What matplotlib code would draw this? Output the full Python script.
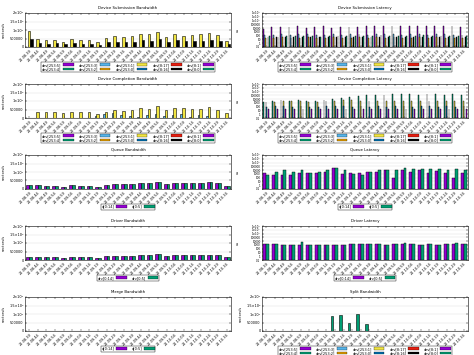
import numpy as np
import matplotlib
matplotlib.use("Agg")
from matplotlib import pyplot as plt
from matplotlib.patches import Patch

# x labels (time of sample)
times = ["21.08.39", "21.08.44", "21.08.49", "21.08.54", "21.08.59", "21.09.04",
         "21.09.09", "21.09.14", "21.09.19", "21.09.24", "21.09.29", "21.09.34",
         "21.09.39", "21.09.44", "21.09.49", "21.09.54", "21.09.59", "21.10.04",
         "21.10.09", "21.10.14", "21.10.19", "21.10.24", "21.10.29", "21.10.34"]

devs = ["dev[253:5]", "dev[253:4]", "dev[253:3]", "dev[253:2]", "dev[253:1]",
        "dev[253:0]", "dev[8:17]", "dev[8:16]", "dev[8:1]", "dev[8:0]"]
queues = ["q[0:14]", "q[0:5]"]
drivers = ["drv[0:14]", "drv[0:5]"]

bw_ticks = [0, 500000, 1e6, 1.5e6, 2e6]
bw_labels = ["0", "500000", "1×10⁶", "1.5×10⁶", "2×10⁶"]
lat_ticks = [0.1, 1, 10, 100, 1000, 10000, 100000, 1e6, 1e7, 1e8]
lat_labels = ["0.1", "1", "10", "100", "1000", "10000", "100000",
              "1×10⁶", "1×10⁷", "1×10⁸"]

zero = [0] * 24

# device submission bandwidth (sectors/s)
sub_bw_253_1 = [970000, 450000, 390000, 410000, 310000, 450000, 390000, 390000, 270000, 540000,
                620000, 580000, 640000, 780000, 760000, 910000, 600000, 780000, 660000, 720000,
                740000, 850000, 680000, 370000]
sub_bw_8_16 = [450000, 220000, 200000, 220000, 160000, 220000, 200000, 200000, 140000, 270000,
               310000, 290000, 320000, 390000, 380000, 450000, 300000, 390000, 330000, 360000,
               370000, 420000, 340000, 190000]

# device completion bandwidth (sectors/s)
comp_bw_253_1 = [20000, 380000, 340000, 360000, 280000, 360000, 340000, 360000, 240000, 380000,
                 460000, 420000, 460000, 580000, 540000, 680000, 480000, 600000, 560000, 540000,
                 520000, 640000, 500000, 280000]
comp_bw_253_3 = [0, 0, 0, 0, 0, 0, 0, 0, 100000, 250000,
                 280000, 150000, 100000, 80000, 200000, 250000, 100000, 150000, 250000, 60000,
                 200000, 120000, 0, 0]

# device submission latency (us)
sub_lat_253_5 = [5000, 15000, 23000, 15000, 40000, 10000, 15000, 30000, 10000, 15000,
                 23000, 23000, 30000, 40000, 45000, 45000, 45000, 45000, 45000, 45000,
                 45000, 45000, 30000, 15000]
sub_lat_253_3 = [200, 150, 300, 200, 250, 300, 150, 200, 300, 200,
                 250, 300, 200, 300, 250, 300, 200, 300, 250, 200,
                 300, 250, 200, 150]
sub_lat_253_2 = [30, 20, 40, 30, 25, 35, 30, 20, 40, 30,
                 25, 35, 30, 40, 30, 35, 25, 30, 40, 30,
                 35, 30, 25, 30]
sub_lat_8_16 = [50, 40, 60, 50, 45, 55, 50, 40, 60, 50,
                45, 55, 50, 60, 50, 55, 45, 50, 60, 50,
                55, 50, 45, 50]
sub_lat_8_0 = [80, 60, 100, 70, 90, 80, 60, 100, 70, 90,
               80, 100, 90, 120, 100, 110, 90, 100, 120, 100,
               110, 100, 90, 80]

# device completion latency (us)
comp_lat_253_4 = [2000, 3000, 5000, 3000, 5000, 3000, 3000, 6000, 8000, 15000,
                  40000, 80000, 150000, 150000, 150000, 200000, 200000, 200000, 150000, 200000,
                  200000, 150000, 200000, 150000]
comp_lat_253_1 = [1500, 2000, 3000, 2500, 3000, 2000, 2000, 3000, 4000, 5000,
                  5000, 4000, 4000, 3000, 4000, 3000, 3000, 4000, 3000, 3000,
                  4000, 3000, 3000, 2500]
comp_lat_253_0 = [100, 200, 150, 100, 150, 100, 80, 200, 150, 200,
                  100, 200, 100, 150, 100, 200, 150, 100, 150, 200,
                  100, 150, 100, 150]
comp_lat_8_1 = [30, 20, 30, 25, 20, 30, 25, 20, 30, 25,
                30, 20, 25, 30, 20, 25, 30, 20, 25, 30,
                20, 25, 30, 20]

# queue bandwidth (sectors/s)
q_bw_14 = [230000, 230000, 190000, 200000, 140000, 220000, 200000, 200000, 120000, 260000,
           300000, 280000, 310000, 380000, 370000, 440000, 300000, 370000, 330000, 350000,
           360000, 410000, 330000, 190000]
q_bw_5 = [225000, 228000, 192000, 198000, 142000, 218000, 198000, 202000, 122000, 258000,
          298000, 282000, 308000, 378000, 372000, 438000, 302000, 368000, 332000, 348000,
          362000, 408000, 332000, 188000]

# queue latency (us)
q_lat_14 = [1900, 400, 400, 600, 1500, 2300, 2300, 3500, 28000, 1200,
            1500, 1900, 3500, 3500, 12000, 80, 8000, 3500, 10000, 1500,
            5000, 2000, 100, 2300]
q_lat_5 = [400, 2800, 10000, 3500, 8000, 2300, 4000, 12000, 28000, 8000,
           1200, 500, 3500, 12000, 12000, 12000, 28000, 20000, 20000, 20000,
           18000, 12000, 15000, 12000]

# driver bandwidth (sectors/s)
drv_bw_14 = [150000, 180000, 160000, 170000, 120000, 170000, 160000, 170000, 110000, 220000,
             240000, 220000, 240000, 290000, 280000, 350000, 240000, 300000, 270000, 280000,
             270000, 320000, 270000, 160000]
drv_bw_5 = [148000, 178000, 162000, 168000, 122000, 168000, 162000, 168000, 112000, 218000,
            242000, 218000, 242000, 288000, 282000, 348000, 242000, 298000, 272000, 278000,
            272000, 318000, 268000, 162000]

# driver latency (us)
drv_lat_14 = [1300, 1300, 700, 1000, 1200, 1000, 1200, 1000, 1000, 1000,
              1500, 1500, 1500, 1800, 700, 1300, 2000, 1500, 1000, 2000,
              800, 1300, 1300, 1500]
drv_lat_5 = [1300, 1300, 1100, 1100, 5000, 1000, 1200, 1000, 1000, 1000,
             1500, 1700, 1500, 1800, 700, 1500, 2500, 1500, 1000, 2000,
             800, 1300, 2800, 1500]

# split bandwidth (sectors/s)
split_bw_253_4 = [0, 0, 0, 0, 0, 0, 0, 0, 900000, 950000,
                  480000, 1000000, 420000, 0, 0, 0, 0, 0, 0, 0,
                  0, 0, 0, 0]

colors = ['#9400d3', '#009e73', '#56b4e9', '#e69f00', '#f0e442',
          '#0072b2', '#e51e10', '#000000', '#9400d3', '#009e73']

W, H = 474, 355
fig = plt.figure(figsize=(W / 100, H / 100), dpi=100)
fs = 2.5


def panel(col, row, title, series, labels, log=False, ylabel="sectors/s"):
    left = 25 if col == 0 else 262
    top = 13 + 71 * row
    ax = fig.add_axes([left / W, 1 - (top + 34) / H, 206 / W, 34 / H])
    n = len(series)
    x = np.arange(24)
    if n > 2 and log:
        w, step = 0.1, 0.08
    elif n > 2:
        w, step = 0.3, 0.1
    else:
        w, step = 0.33, 0.33
    for i, vals in enumerate(series):
        vals = np.array(vals, dtype=float)
        pos = x + (i - (n - 1) / 2) * step
        if log:
            ax.bar(pos, np.where(vals > 0, vals - 0.1, 0), width=w, bottom=0.1,
                   color=colors[i], edgecolor='black', linewidth=0.3)
        else:
            ax.bar(pos, vals, width=w, color=colors[i], edgecolor='black',
                   linewidth=0.4)
    ax.set_xlim(-0.5, 23.5)
    if log:
        ax.set_yscale('log')
        ax.set_ylim(0.1, 1e8)
        ax.set_yticks(lat_ticks)
        ax.set_yticklabels(lat_labels)
        ax.minorticks_off()
        ylabel = "us"
        ax.yaxis.set_label_coords(-0.11, 0.5)
        ax.tick_params(axis='y', labelsize=2.0)
    else:
        ax.set_ylim(0, 2e6)
        ax.set_yticks(bw_ticks)
        ax.set_yticklabels(bw_labels)
        ax.yaxis.set_label_coords(-0.092, 0.5)
        ax.tick_params(axis='y', labelsize=fs)
    ax.set_xticks(x)
    ax.set_xticklabels(times, rotation=45, ha='right', rotation_mode='anchor')
    ax.tick_params(axis='x', labelsize=fs)
    ax.tick_params(axis='both', direction='in', length=1.5, width=0.3,
                   top=True, right=True, pad=1)
    ax.grid(axis='y', color='#dddddd', linewidth=0.3)
    ax.set_axisbelow(True)
    for s in ax.spines.values():
        s.set_linewidth(0.4)
    ax.set_title(title, fontsize=fs + 0.3, pad=3)
    ax.set_ylabel(ylabel, fontsize=fs)
    handles = [Patch(facecolor=colors[i], edgecolor='black', linewidth=0.2)
               for i in range(n)]
    ncol = 5 if n > 2 else 2
    leg = ax.legend(handles, labels, loc='upper center', bbox_to_anchor=(0.5, -0.4),
                    ncol=ncol, fontsize=fs, markerfirst=False, handlelength=3,
                    handleheight=0.8, columnspacing=1.5, borderpad=0.2,
                    labelspacing=0.1, handletextpad=0.5, fancybox=False, framealpha=1)
    leg.get_frame().set_linewidth(0.3)
    leg.get_frame().set_edgecolor('black')
    return ax


def dev_series(**kw):
    keys = ["d253_5", "d253_4", "d253_3", "d253_2", "d253_1", "d253_0",
            "d8_17", "d8_16", "d8_1", "d8_0"]
    return [kw.get(k, zero) for k in keys]


panel(0, 0, "Device Submission Bandwidth",
      dev_series(d253_1=sub_bw_253_1, d8_16=sub_bw_8_16), devs)
panel(1, 0, "Device Submission Latency",
      dev_series(d253_5=sub_lat_253_5, d253_3=sub_lat_253_3, d253_2=sub_lat_253_2,
                 d8_16=sub_lat_8_16, d8_0=sub_lat_8_0), devs, log=True)
panel(0, 1, "Device Completion Bandwidth",
      dev_series(d253_3=comp_bw_253_3, d253_1=comp_bw_253_1), devs)
panel(1, 1, "Device Completion Latency",
      dev_series(d253_4=comp_lat_253_4, d253_1=comp_lat_253_1, d253_0=comp_lat_253_0,
                 d8_1=comp_lat_8_1), devs, log=True)
panel(0, 2, "Queue Bandwidth", [q_bw_14, q_bw_5], queues)
panel(1, 2, "Queue Latency", [q_lat_14, q_lat_5], queues, log=True)
panel(0, 3, "Driver Bandwidth", [drv_bw_14, drv_bw_5], drivers)
panel(1, 3, "Driver Latency", [drv_lat_14, drv_lat_5], drivers, log=True)
panel(0, 4, "Merge Bandwidth", [zero, zero], queues)
panel(1, 4, "Split Bandwidth", dev_series(d253_4=split_bw_253_4), devs)

fig.savefig("out.png", dpi=100)
